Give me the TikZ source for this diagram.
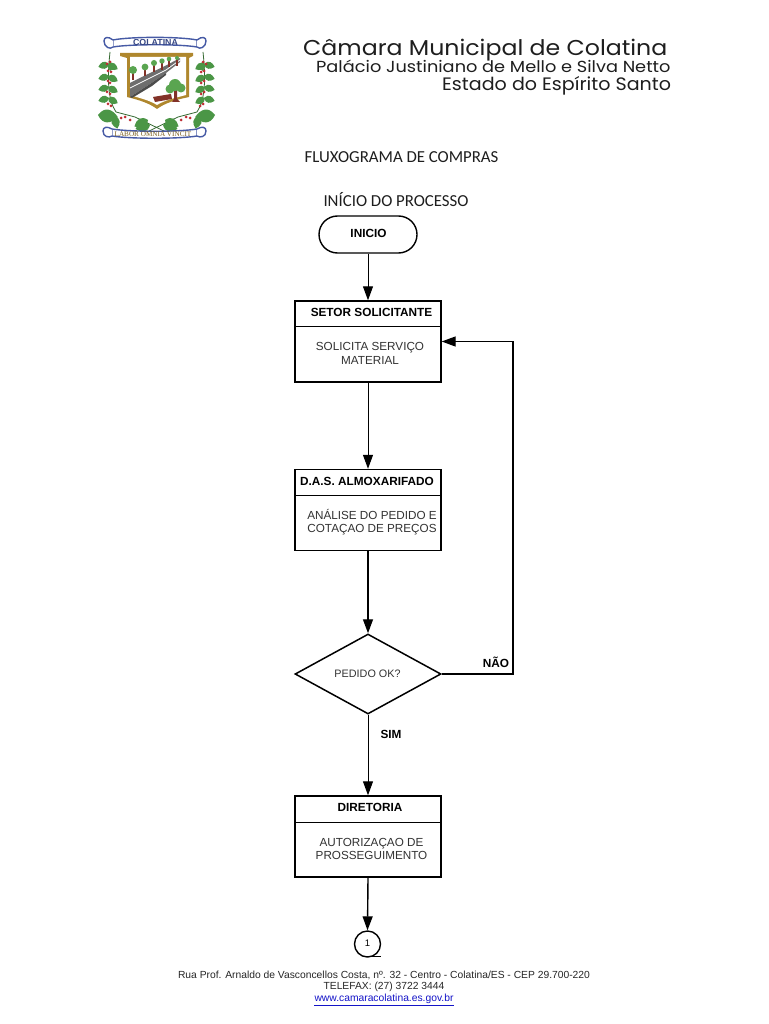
\documentclass[tikz,border=0pt]{standalone}
\usepackage{fontspec}
\setmainfont{Liberation Sans}
\newfontfamily\calib{Carlito}
\newfontfamily\headf{Poppins}
\newfontfamily\serifl{Liberation Serif}
\usetikzlibrary{arrows.meta,shapes.geometric,shapes.misc}
\definecolor{ribbon}{RGB}{70,90,165}
\definecolor{shieldc}{RGB}{175,135,45}
\definecolor{leafc}{RGB}{75,150,70}
\definecolor{berry}{RGB}{190,45,50}
\definecolor{bridgec}{RGB}{110,110,110}
\definecolor{treec}{RGB}{90,165,80}
\definecolor{trunkc}{RGB}{130,50,40}
\definecolor{linkc}{RGB}{20,20,200}
\definecolor{headc}{RGB}{30,30,30}
\tikzset{
 x=1pt,y=-1pt,
 flowline/.style={line width=1pt,draw=black},
 flowarrow/.style={flowline,-{Triangle[length=14pt,width=10pt]}},
 flowbox/.style={draw=black,line width=1.4pt,minimum width=146pt,minimum height=81pt,inner sep=0pt},
 startbox/.style={draw=black,line width=1.4pt,rounded rectangle,minimum width=98pt,minimum height=37pt,inner sep=0pt},
 decisionbox/.style={draw=black,line width=1.5pt,diamond,aspect=1.825,minimum width=146pt,minimum height=80pt,inner sep=0pt},
 connbox/.style={draw=black,line width=1.4pt,circle,minimum size=26pt,inner sep=0pt},
 boldlabel/.style={font=\fontsize{11.8}{13}\selectfont\bfseries,inner sep=0pt},
 bodylabel/.style={font=\fontsize{11.7}{13.5}\selectfont,align=center,inner sep=0pt,text=black!80},
 titlelabel/.style={font=\calib\fontsize{16.8}{18}\selectfont,inner sep=0pt,text=headc},
 headlabel/.style={font=\headf,inner sep=0pt,anchor=base west,text=headc},
 footlabel/.style={font=\fontsize{10.3}{12}\selectfont,inner sep=0pt,text=black!85},
}
\newcommand{\lgleaf}[4]{\fill[leafc,shift={(#1,#2)},rotate=#3] (0,0) .. controls (#4*0.3,-#4*0.5) and (#4*0.7,-#4*0.35) .. (#4,0) .. controls (#4*0.7,#4*0.35) and (#4*0.3,#4*0.5) .. (0,0);}
\newcommand{\lgtree}[3]{\fill[trunkc] (#1-0.9,#2) rectangle (#1+0.9,#2+#3+6); \fill[treec] (#1,#2) circle (#3);}
\begin{document}
\begin{tikzpicture}
\useasboundingbox (0,0) rectangle (768,1024);
\fill[white] (0,0) rectangle (768,1024);

% ---- crest
\begin{scope}
 % top ribbon
 \draw[ribbon,line width=1.4pt,fill=white] (113,40) .. controls (130,36.5) and (180,36.5) .. (197,40) -- (197,47) .. controls (180,44) and (130,44) .. (113,47) -- cycle;
 \draw[ribbon,line width=1.4pt,fill=white] (113,40) .. controls (108,36) and (104,37) .. (104,41) .. controls (104,47) and (110,50) .. (113,47);
 \draw[ribbon,line width=1.4pt,fill=white] (197,40) .. controls (202,36) and (206,37) .. (206,41) .. controls (206,47) and (200,50) .. (197,47);
 \node[inner sep=0pt,text=ribbon!80!black] (motto1) at (155.5,42.5) {\fontsize{8.8}{9}\selectfont\bfseries COLATINA};
 % shield
 \fill[shieldc] (120,53) -- (193,53) -- (193,56) -- (189,58) -- (189,97) .. controls (175,100) and (165,103) .. (157,109) .. controls (149,103) and (139,100) .. (127,97) -- (127,58) -- (120,56) -- cycle;
 \fill[white] (130,57) -- (186,57) -- (186,95) .. controls (175,98) and (165,100) .. (157,105) .. controls (149,100) and (139,98) .. (130,95) -- cycle;
 % bridge
 \fill[bridgec] (130,97) -- (130,83) -- (148,74) -- (165,66) -- (180,58) -- (180,62) -- (166,73) -- (150,84) -- cycle;
 \draw[white,line width=0.8pt] (130,88) -- (148,79) -- (166,70) -- (180,60);
 \fill[black!70] (130,97) -- (150,84) -- (166,73) -- (166,75) -- (152,86) -- (132,98) -- cycle;
 % trees
 \lgtree{133}{70}{4} \lgtree{145}{67}{3.4} \lgtree{154}{63}{3} \lgtree{162}{61}{2.7} \lgtree{169}{59}{2.3} \lgtree{177}{58}{2}
 \fill[trunkc] (174,88) -- (177,88) -- (177,99) -- (180,102) -- (172,102) -- (174,99) -- cycle;
 \fill[treec] (170,89) circle (4.5) (175,85) circle (6) (181,88) circle (4.5);
 \fill[trunkc] (153,97) -- (171,94) -- (172,99) -- (155,102) -- cycle;
 % laurels
 \draw[leafc!70!black,line width=0.8pt] (110,52) .. controls (107,80) and (108,100) .. (116,112) -- (135,117) -- (168,133);
 \draw[leafc!70!black,line width=0.8pt] (203,52) .. controls (206,80) and (205,100) .. (197,112) -- (178,117) -- (145,133);
 \foreach \yy in {64,76,87,98}{ \lgleaf{109}{\yy}{195}{11} \lgleaf{108}{\yy}{-28}{11} }
 \foreach \yy in {64,76,87,98}{ \lgleaf{204}{\yy}{-15}{11} \lgleaf{205}{\yy}{208}{11} }
 \lgleaf{110.5}{62}{-90}{9}
 \lgleaf{202.5}{62}{-90}{9}
 \lgleaf{98}{115}{-6}{20}
 \lgleaf{215}{115}{186}{20}
 \lgleaf{114}{116}{-75}{13}
 \lgleaf{199}{116}{-105}{13}
 \lgleaf{148}{120}{205}{15}
 \lgleaf{165}{120}{-25}{15}
 \lgleaf{150}{125}{195}{15}
 \lgleaf{163}{125}{-15}{15}
 \foreach \p in {(110,62),(107,64),(108,71),(111,72),(108,81),(110,83),(107,92),(110,94),(108,104),(111,106),(121,118),(125,117),(130,120),(203,62),(206,64),(204,71),(201,72),(204,81),(201,83),(204,92),(201,94),(203,104),(200,106),(190,118),(186,117),(181,120)}{\fill[berry] \p circle (1.5);}
 % bottom ribbon
 \draw[ribbon,line width=1.4pt,fill=white] (112,129) .. controls (130,132) and (180,132) .. (197,129) -- (197,136) .. controls (180,139) and (130,139) .. (112,136) -- cycle;
 \draw[ribbon,line width=1.4pt,fill=white] (112,129) .. controls (107,126) and (103,127) .. (103,131) .. controls (103,137) and (109,138) .. (112,136);
 \draw[ribbon,line width=1.4pt,fill=white] (197,129) .. controls (202,126) and (206,127) .. (206,131) .. controls (206,137) and (200,138) .. (197,136);
 \node[inner sep=0pt,text=shieldc!70!black] (motto2) at (153,134.5) {\serifl\fontsize{7.2}{8}\selectfont LABOR OMNIA VINCIT};
\end{scope}

% ---- header
\node[headlabel] (h1) at (303,55.7) {\scalebox{1.10}[1]{\fontsize{21.5}{23}\selectfont Câmara Municipal de Colatina}};
\node[headlabel] (h2) at (316,72.3) {\scalebox{1.11}[1]{\fontsize{16}{18}\selectfont Palácio Justiniano de Mello e Silva Netto}};
\node[headlabel] (h3) at (442,90.7) {\scalebox{1.06}[1]{\fontsize{18}{20}\selectfont Estado do Espírito Santo}};

\node[titlelabel] (t1) at (401.5,157) {FLUXOGRAMA DE COMPRAS};
\node[titlelabel] (t2) at (396,199.5) {INÍCIO DO PROCESSO};

% ---- flow nodes
\node[startbox] (inicio) at (368,234.5) {};
\node[boldlabel] (inicioT) at (368.5,233) {INICIO};

\node[flowbox] (setor) at (368,341.5) {};
\draw[line width=0.9pt] (setor.west|-0,326) -- (setor.east|-0,326);
\node[boldlabel] (setorT) at (371.5,312.5) {SETOR SOLICITANTE};
\node[bodylabel] (setorB) at (370,353.5) {SOLICITA SERVIÇO\\MATERIAL};

\node[flowbox] (das) at (368,510) {};
\draw[line width=0.9pt] (das.west|-0,495) -- (das.east|-0,495);
\node[boldlabel] (dasT) at (367,481) {D.A.S. ALMOXARIFADO};
\node[bodylabel] (dasB) at (372,522) {ANÁLISE DO PEDIDO E\\COTAÇAO DE PREÇOS};

\node[decisionbox] (dec) at (368,674) {};
\node[bodylabel,font=\fontsize{10.8}{13}\selectfont] (decT) at (367.5,673.5) {PEDIDO OK?};
\node[boldlabel] (nao) at (496,662) {NÃO};
\node[boldlabel] (sim) at (391,734) {SIM};

\node[flowbox] (dir) at (368,836.5) {};
\draw[line width=0.9pt] (dir.west|-0,822) -- (dir.east|-0,822);
\node[boldlabel] (dirT) at (370,807) {DIRETORIA};
\node[bodylabel] (dirB) at (371.5,849) {AUTORIZAÇAO DE\\PROSSEGUIMENTO};

\node[connbox] (conn) at (367.5,944) {};
\node[font=\fontsize{9.5}{11}\selectfont,inner sep=0pt] (connT) at (367.5,943) {1};
\draw[line width=1.4pt] (367.5,956.5) -- (381,956.5);

% ---- connectors
\draw[flowarrow] (inicio.south) -- (setor.north);
\draw[flowarrow] (setor.south) -- (das.north);
\draw[flowarrow,line width=1.4pt] (das.south) -- (dec.north);
\draw[flowarrow] (dec.south) -- (dir.north);
\draw[flowarrow,line width=1.4pt] (dir.south) -- (conn.north);
\coordinate (corner1) at (513,674);
\coordinate (corner2) at (513,341.5);
\draw[flowarrow,line width=1.4pt] (dec.east) -- (corner1) -- (corner2) -- (setor.east);

% ---- footer
\node[footlabel] (f1) at (384,975) {Rua Prof. Arnaldo de Vasconcellos Costa, nº. 32 - Centro - Colatina/ES - CEP 29.700-220};
\node[footlabel] (f2) at (384,987) {TELEFAX: (27) 3722 3444};
\node[footlabel,text=linkc] (f3) at (384,999) {www.camaracolatina.es.gov.br};
\draw[linkc,line width=0.7pt] ([yshift=-1pt]f3.south west) -- ([yshift=-1pt]f3.south east);
\end{tikzpicture}
\end{document}
